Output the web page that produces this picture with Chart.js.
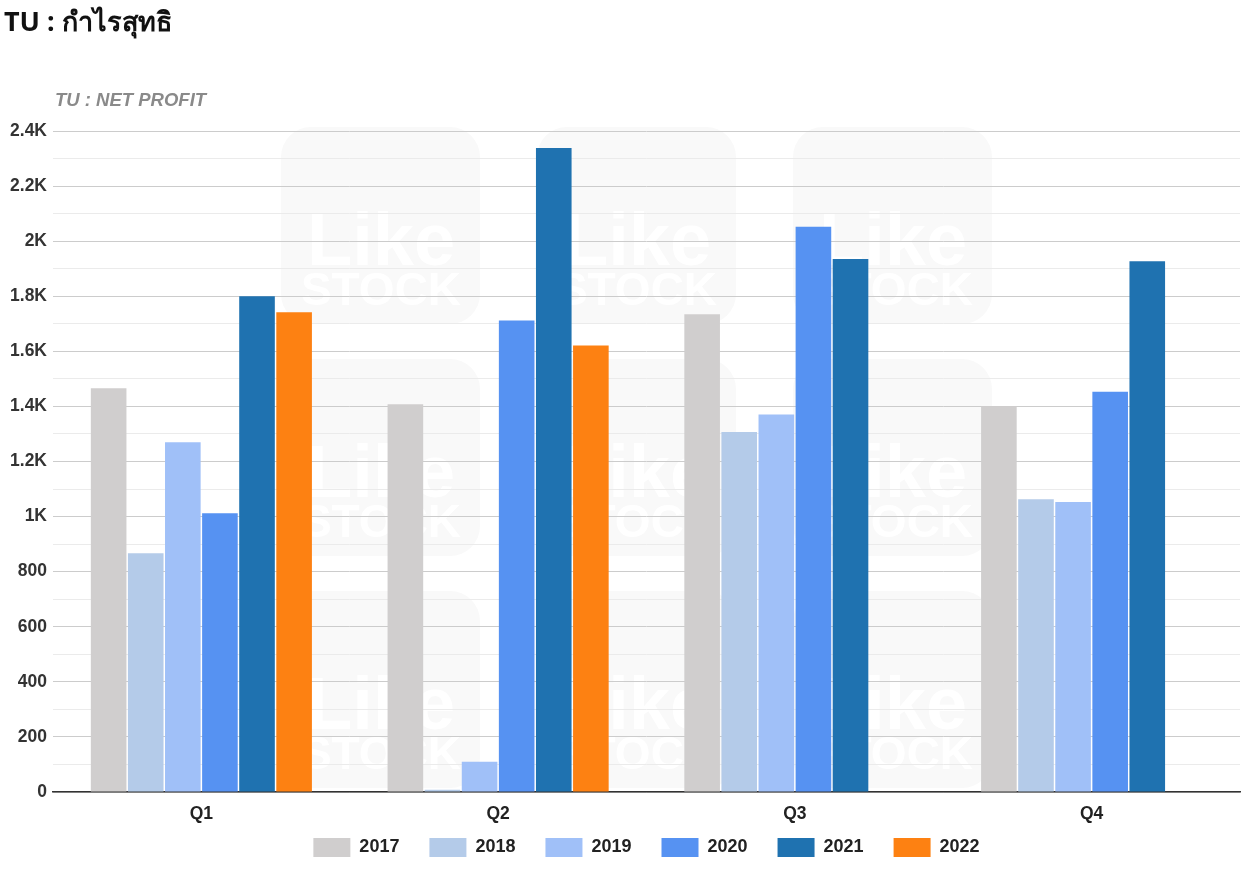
<!DOCTYPE html>
<html>
<head>
<meta charset="utf-8">
<script src="https://cdn.jsdelivr.net/npm/chart.js@4"></script>
<style>
  body { margin: 0; background: #fff; }
  #wrap { position: relative; width: 1256px; height: 870px; }
  #title { position: absolute; left: 4px; top: 0px; font: bold 27px "Noto Sans", "DejaVu Sans", sans-serif; color: #111; }
  #subtitle { position: absolute; left: 55px; top: 89px; font: italic bold 18.5px "Liberation Sans", Arial, sans-serif; color: #8a8a8a; }
  canvas { position: absolute; left: 0; top: 0; }
</style>
</head>
<body>
<div id="wrap">
  <canvas id="chart__canvas" width="1256" height="870"></canvas>
  <div id="title">TU : กำไรสุทธิ</div>
  <div id="subtitle">TU : NET PROFIT</div>
</div>
<script>
// ข้อมูล
const quarters = ["Q1", "Q2", "Q3", "Q4"];
const years = ["2017", "2018", "2019", "2020", "2021", "2022"];
const profit2017 = [1466, 1408, 1735, 1401];
const profit2018 = [867, 8, 1307, 1063];
const profit2019 = [1270, 110, 1371, 1053];
const profit2020 = [1012, 1712, 2052, 1453];
const profit2021 = [1800, 2338, 1935, 1927];
const profit2022 = [1742, 1621, null, null];
const yearColors = ["#d0cece", "#b4cbe9", "#a0c0f8", "#5692f2", "#1f72b0", "#fd8112"];

const series = [profit2017, profit2018, profit2019, profit2020, profit2021, profit2022];
const FONT = "'Liberation Sans', Arial, sans-serif";

// ลายน้ำ
const watermark = {
    id: "watermark",
    beforeDraw(chart) {
        const ctx = chart.ctx;
        ctx.save();
        const cols = [281, 537, 793];
        const rows = [127, 359, 591];
        for (const y of rows) {
            for (const x of cols) {
                ctx.fillStyle = "#f9f9f9";
                ctx.beginPath();
                ctx.roundRect(x, y, 199, 197, 30);
                ctx.fill();
                ctx.fillStyle = "#ffffff";
                ctx.font = "bold 74px " + FONT;
                ctx.textAlign = "center";
                ctx.fillText("Like", x + 100, y + 118);
                ctx.font = "bold 46px " + FONT;
                ctx.fillText("STOCK", x + 100, y + 165);
            }
        }
        ctx.restore();
    }
};

// ขยับ legend ให้อยู่กลางพื้นที่กราฟ และชิดป้ายแกน x
const legendShift = {
    id: "legendShift",
    afterLayout(chart) {
        const lg = chart.legend;
        if (!lg) return;
        const dy = 808 - lg.top;
        const dx = (chart.chartArea.left + chart.chartArea.right) / 2 - (lg.left + lg.right) / 2;
        lg.top += dy;
        lg.bottom = lg.top + 60;
        lg.left += dx;
        lg.right += dx;
    }
};

const datasets = years.map((year, i) => ({
    label: year,
    data: series[i],
    backgroundColor: yearColors[i],
    borderWidth: 0,
    categoryPercentage: 0.75,
    barPercentage: 0.96,
}));

const ctx = document.getElementById("chart__canvas").getContext("2d");
const myChart = new Chart(ctx, {
    type: "bar",
    data: { labels: quarters, datasets },
    plugins: [watermark, legendShift],
    options: {
        responsive: false,
        animation: false,
        layout: { padding: { top: 131, left: 0, right: 16, bottom: 0 } },
        plugins: {
            tooltip: { enabled: false },
            legend: {
                position: "bottom",
                maxHeight: 33,
                labels: {
                    boxWidth: 37,
                    boxHeight: 19,
                    padding: 30,
                    color: "#222",
                    font: { family: FONT, size: 18, weight: "bold" },
                },
            },
        },
        scales: {
            x: {
                grid: { display: false, drawTicks: false },
                border: { color: "#333", width: 1.5 },
                ticks: {
                    color: "#222",
                    padding: 12,
                    font: { family: FONT, size: 17.5, weight: "bold" },
                },
            },
            y: {
                min: 0,
                max: 2400,
                afterFit(scale) { scale.width = 53; },
                border: { display: false },
                grid: {
                    drawTicks: false,
                    color: (c) => (c.tick.value % 200 === 0 ? "#cccccc" : "#ebebeb"),
                    lineWidth: 1,
                },
                ticks: {
                    stepSize: 100,
                    padding: 6,
                    color: "#333",
                    autoSkip: false,
                    font: { family: FONT, size: 17.5, weight: "bold" },
                    callback: (v) => {
                        if (v % 200 !== 0) return "";
                        return v >= 1000 ? v / 1000 + "K" : v;
                    },
                },
            },
        },
    },
});
</script>
</body>
</html>
